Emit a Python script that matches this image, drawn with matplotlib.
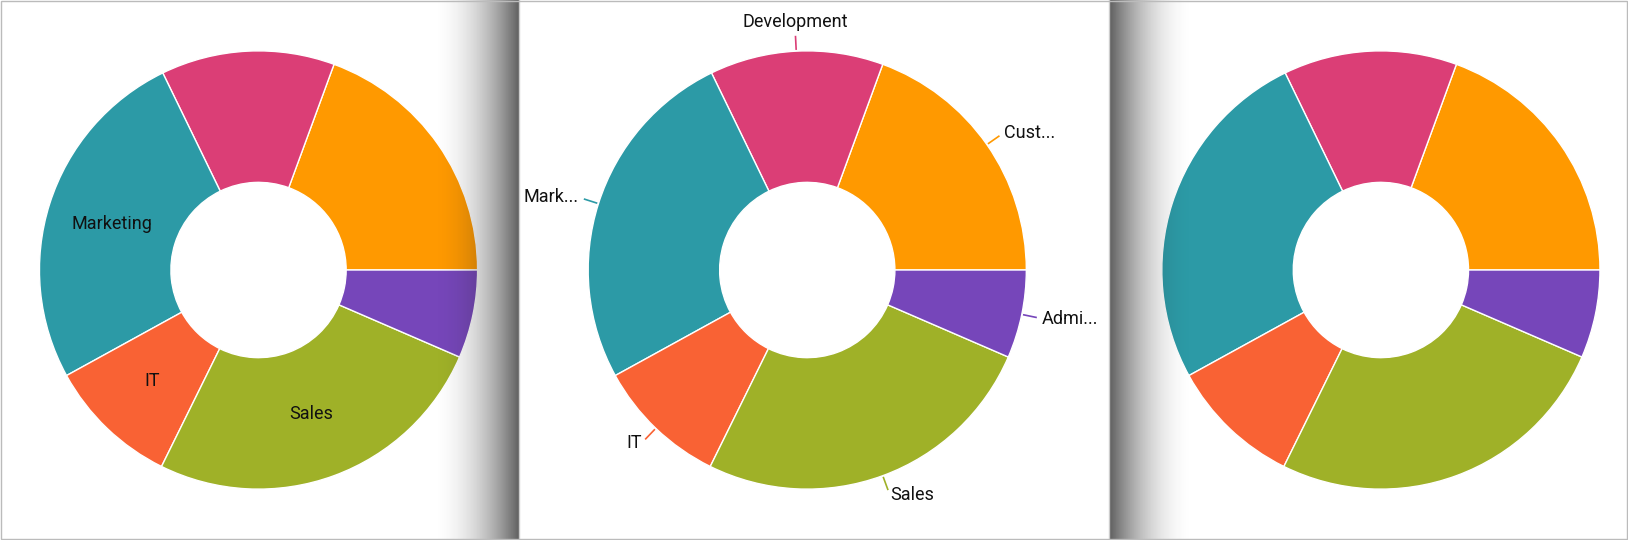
import numpy as np
import matplotlib
matplotlib.use("Agg")
import matplotlib.pyplot as plt

categories = ["Customer Support", "Development", "Marketing", "IT", "Sales", "Administration"]
values = [19.4, 12.8, 25.8, 9.7, 25.8, 6.5]
colors = ["#FF9900", "#DB3E76", "#2C9AA6", "#F96234", "#9FB128", "#7646BA"]
outer_labels = ["Cust...", "Development", "Mark...", "IT", "Sales", "Admi..."]
inner_labels = ["", "", "Marketing", "IT", "Sales", ""]

plt.rcParams['font.family'] = ['Roboto', 'DejaVu Sans']
W, H = 1568, 520
fig = plt.figure(figsize=(16.28, 5.4), dpi=100)
ax = fig.add_axes([0, 0, 1, 1])
ax.set_xlim(0, W); ax.set_ylim(0, H)
ax.axis('off')

R = 211
cy = H - 260
centers = [249, 777.5, 1330]
for cx in centers:
    ax.pie(values, colors=colors, startangle=0, counterclock=True, center=(cx, cy), radius=R,
           wedgeprops=dict(width=R * 0.6, edgecolor='white', linewidth=1))
ax.set_xlim(0, W); ax.set_ylim(0, H); ax.set_aspect('auto')

cum = np.cumsum([0] + values)
tot = cum[-1]
for i, lab in enumerate(categories):
    mid = np.deg2rad((cum[i] + cum[i + 1]) / 2 / tot * 360)
    c, s = np.cos(mid), np.sin(mid)
    # panel 1 inside labels
    if inner_labels[i]:
        ax.text(centers[0] + 0.7 * R * c, cy + 0.7 * R * s, inner_labels[i], ha='center', va='center', fontsize=13, color='#111')
    # panel 2 outside labels
    cx = centers[1]
    ax.plot([cx + (R + 2) * c, cx + (R + 14) * c], [cy + (R + 2) * s, cy + (R + 14) * s], color=colors[i], lw=1.2)
    tx, ty = cx + (R + 20) * c, cy + (R + 20) * s
    if abs(c) < 0.3:
        ha = 'center'
        ty = cy + (R + 28) * np.sign(s)
    else:
        ha = 'left' if c > 0 else 'right'
    ax.text(tx, ty, outer_labels[i], ha=ha, va='center', fontsize=13, color='#111')

# shadows
def shadow(x0, x1, reverse):
    n = 256
    g = np.linspace(0, 1, n) ** 2
    if reverse:
        g = g[::-1]
    img = np.zeros((1, n, 4))
    img[..., :3] = 0.15
    img[..., 3] = g * 0.75
    ax.imshow(img, extent=[x0, x1, 0, H], aspect='auto', zorder=10, interpolation='bilinear')
shadow(415, 500, False)
shadow(1068, 1150, True)
ax.set_xlim(0, W); ax.set_ylim(0, H)
for x in [500, 1068]:
    ax.axvline(x, color='#cccccc', lw=1, zorder=11)
ax.add_patch(plt.Rectangle((0.5, 0.5), W - 1, H - 1, fill=False, ec='#bbbbbb', lw=1, zorder=12))
fig.savefig("out.png", dpi=100)
